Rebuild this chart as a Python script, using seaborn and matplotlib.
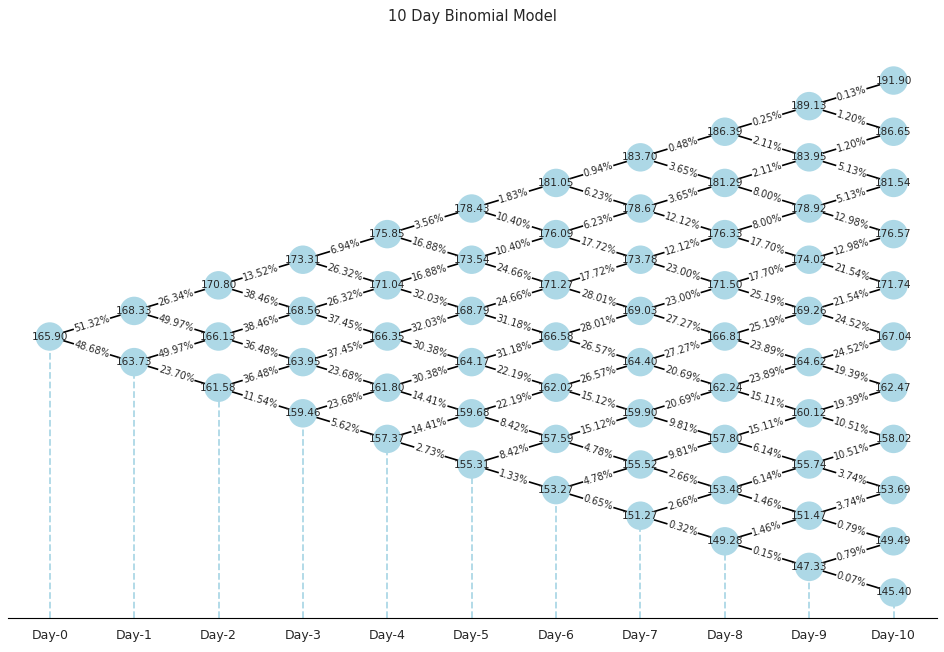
import numpy as np
import pandas as pd
import matplotlib
matplotlib.use("Agg")
import matplotlib.pyplot as plt
import seaborn as sns

days = [f"Day-{d}" for d in range(11)]
prices = [
    [165.90],
    [168.33, 163.73],
    [170.80, 166.13, 161.58],
    [173.31, 168.56, 163.95, 159.46],
    [175.85, 171.04, 166.35, 161.80, 157.37],
    [178.43, 173.54, 168.79, 164.17, 159.68, 155.31],
    [181.05, 176.09, 171.27, 166.58, 162.02, 157.59, 153.27],
    [183.70, 178.67, 173.78, 169.03, 164.40, 159.90, 155.52, 151.27],
    [186.39, 181.29, 176.33, 171.50, 166.81, 162.24, 157.80, 153.48, 149.28],
    [189.13, 183.95, 178.92, 174.02, 169.26, 164.62, 160.12, 155.74, 151.47, 147.33],
    [191.90, 186.65, 181.54, 176.57, 171.74, 167.04, 162.47, 158.02, 153.69, 149.49, 145.40],
]
probs = [
    [100.0],
    [51.32, 48.68],
    [26.34, 49.97, 23.70],
    [13.52, 38.46, 36.48, 11.54],
    [6.94, 26.32, 37.45, 23.68, 5.62],
    [3.56, 16.88, 32.03, 30.38, 14.41, 2.73],
    [1.83, 10.40, 24.66, 31.18, 22.19, 8.42, 1.33],
    [0.94, 6.23, 17.72, 28.01, 26.57, 15.12, 4.78, 0.65],
    [0.48, 3.65, 12.12, 23.00, 27.27, 20.69, 9.81, 2.66, 0.32],
    [0.25, 2.11, 8.00, 17.70, 25.19, 23.89, 15.11, 6.14, 1.46, 0.15],
    [0.13, 1.20, 5.13, 12.98, 21.54, 24.52, 19.39, 10.51, 3.74, 0.79, 0.07],
]

sns.set_style("white")
fig, ax = plt.subplots(figsize=(9.45, 6.52), dpi=100)
fig.subplots_adjust(left=0.008, right=0.992, top=0.955, bottom=0.052)
ax.set_xlim(-0.5, 10.52)
ax.set_ylim(-11.0, 12.0)

rows = []
for d, col in enumerate(prices):
    for i, p in enumerate(col):
        rows.append({"x": d, "y": d - 2 * i, "price": p})
df = pd.DataFrame(rows)

fig.canvas.draw()
def ang(x0, y0, x1, y1):
    a = ax.transData.transform([(x0, y0), (x1, y1)])
    return np.degrees(np.arctan2(a[1, 1] - a[0, 1], a[1, 0] - a[0, 0]))

# vertical dashed lines
for d in range(11):
    ax.plot([d, d], [-11, d - 2 * d], ls="--", color="lightblue", lw=1.3, zorder=0)

# edges
for d in range(10):
    for i in range(d + 1):
        y0 = d - 2 * i
        for k, y1 in ((i, y0 + 1), (i + 1, y0 - 1)):
            ax.plot([d, d + 1], [y0, y1], color="black", lw=1.2, zorder=1)
            ax.text(d + 0.5, (y0 + y1) / 2, f"{probs[d+1][k]:.2f}%", fontsize=7,
                    ha="center", va="center", rotation=ang(d, y0, d + 1, y1),
                    rotation_mode="anchor",
                    bbox=dict(boxstyle="square,pad=0.05", fc="white", ec="none"), zorder=2)

sns.scatterplot(data=df, x="x", y="y", s=420, color="lightblue", edgecolor="none", ax=ax, zorder=3)
for _, r in df.iterrows():
    ax.text(r.x, r.y, f"{r.price:.2f}", fontsize=7.5, ha="center", va="center", zorder=4)

ax.set_xticks(range(11))
ax.set_xticklabels(days)
ax.set_yticks([])
ax.set_xlabel("")
ax.set_ylabel("")
for s in ["top", "left", "right"]:
    ax.spines[s].set_visible(False)
ax.spines["bottom"].set_color("black")
ax.tick_params(axis="x", length=0, pad=8, labelsize=9)
ax.set_title("10 Day Binomial Model", fontsize=10.5)
fig.savefig("out.png", dpi=100)
